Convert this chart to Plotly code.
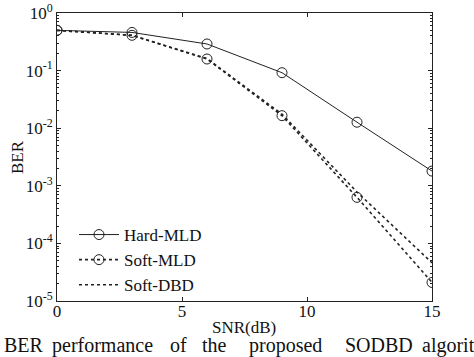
import plotly.graph_objects as go

snr = [0, 3, 6, 9, 12, 15]
hard_mld = [0.5, 0.46, 0.29, 0.092, 0.0127, 0.0018]
soft_mld = [0.5, 0.41, 0.159, 0.0165, 0.00063, 0.000021]
soft_dbd = [0.5, 0.41, 0.162, 0.0175, 0.00078, 0.000046]

y_tickvals = [1e-5, 1e-4, 1e-3, 1e-2, 1e-1, 1]
y_ticktext = ["10<sup>-5</sup>", "10<sup>-4</sup>", "10<sup>-3</sup>",
              "10<sup>-2</sup>", "10<sup>-1</sup>", "10<sup>0</sup>"]
x_tickvals = [0, 5, 10, 15]

caption_words = ["BER", "performance", "of", "the", "proposed", "SODBD", "algorithm"]
caption_px = [2, 50, 168, 200, 247, 343, 420]

FONT = "Liberation Serif, Times New Roman, serif"

fig = go.Figure()
fig.add_trace(go.Scatter(x=snr, y=hard_mld, name="Hard-MLD", mode="lines+markers",
                         line=dict(color="#222", width=1),
                         marker=dict(symbol="circle-open", size=10, color="#222",
                                     line=dict(width=1))))
fig.add_trace(go.Scatter(x=snr, y=soft_mld, name="Soft-MLD", mode="lines+markers",
                         line=dict(color="#222", width=1.6, dash="dot"),
                         marker=dict(symbol="circle-open", size=10, color="#222",
                                     line=dict(width=1))))
fig.add_trace(go.Scatter(x=snr, y=soft_dbd, name="Soft-DBD", mode="lines",
                         line=dict(color="#222", width=1.6, dash="dot")))

L, R, T, B = 57, 42, 13, 56
W, H = 474, 357
pw = W - L - R
ph = H - T - B


def px_x(px):
    return (px - L) / pw


def px_y(py):
    return (T + ph - py) / ph


annotations = []
for w, px in zip(caption_words, caption_px):
    annotations.append(dict(text=w, xref="paper", yref="paper",
                            x=px_x(px), y=px_y(345),
                            xanchor="left", yanchor="middle", showarrow=False,
                            font=dict(family=FONT, size=20, color="#111")))
annotations.append(dict(text="SNR(dB)", xref="paper", yref="paper",
                        x=px_x(244), y=px_y(327), xanchor="center", yanchor="middle",
                        showarrow=False, font=dict(family=FONT, size=17, color="#111")))
annotations.append(dict(text="BER", xref="paper", yref="paper", textangle=-90,
                        x=px_x(17), y=px_y(157), xanchor="center", yanchor="middle",
                        showarrow=False, font=dict(family=FONT, size=17, color="#111")))

fig.update_layout(
    width=W, height=H,
    margin=dict(l=L, r=R, t=T, b=B, autoexpand=False),
    paper_bgcolor="white", plot_bgcolor="white",
    font=dict(family=FONT, size=16, color="#111"),
    showlegend=True,
    legend=dict(x=px_x(74), y=px_y(217), xanchor="left", yanchor="top",
                bgcolor="rgba(0,0,0,0)", font=dict(family=FONT, size=17),
                tracegroupgap=0, itemwidth=40),
    xaxis=dict(range=[0, 15], tickvals=x_tickvals, ticks="inside", ticklen=4,
               showgrid=False, zeroline=False, showline=True, linecolor="#222",
               linewidth=1, mirror="allticks", tickcolor="#222", automargin=False,
               ticklabelstandoff=-5,
               tickfont=dict(family=FONT, size=17)),
    yaxis=dict(type="log", range=[-5, 0], tickvals=y_tickvals, ticktext=y_ticktext,
               ticks="inside", ticklen=4, showgrid=False, zeroline=False,
               showline=True, linecolor="#222", linewidth=1, mirror="allticks",
               tickcolor="#222", tickfont=dict(family=FONT, size=17), automargin=False,
               minor=dict(ticks="inside", ticklen=2, dtick="D1", tickcolor="#222",
                          showgrid=False)),
    annotations=annotations,
)

fig.write_html("out.html", config={"displayModeBar": False},
               post_script="document.body.style.margin='0';document.body.style.overflow='hidden';")
